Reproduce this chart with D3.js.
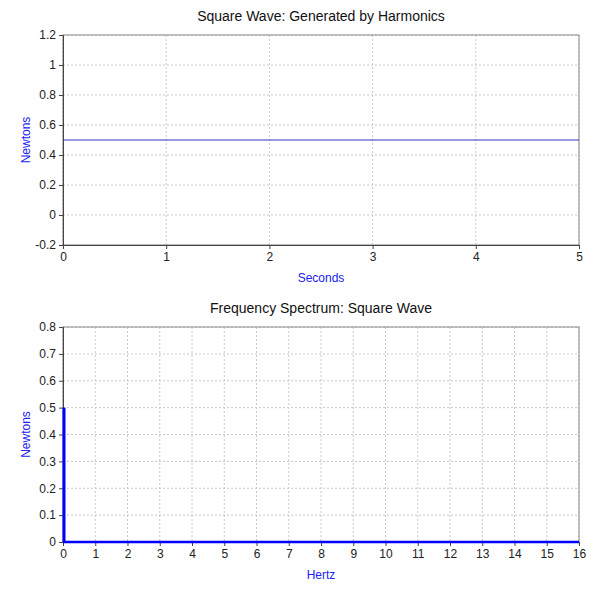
<!DOCTYPE html>
<html><head><meta charset="utf-8">
<script src="https://cdn.jsdelivr.net/npm/d3@7"></script>
<style>body{margin:0;background:#fff}text{font-family:"Liberation Sans",Arial,sans-serif}</style>
</head><body><svg id="c" width="600" height="600"></svg>
<script>
// time signal: square wave generated by harmonics (only DC term here)
var timeSec = [0, 5];
var timeVal = [0.5, 0.5];
var timeTicksY = [-0.2, 0, 0.2, 0.4, 0.6, 0.8, 1, 1.2];
var timeTicksX = [0, 1, 2, 3, 4, 5];

// spectrum
var freqHz = [0, 1, 2, 3, 4, 5, 6, 7, 8, 9, 10, 11, 12, 13, 14, 15, 16];
var freqAmp = [0.5, 0, 0, 0, 0, 0, 0, 0, 0, 0, 0, 0, 0, 0, 0, 0, 0];
var specTicksY = [0, 0.1, 0.2, 0.3, 0.4, 0.5, 0.6, 0.7, 0.8];

var svg = d3.select('#c');

function panel(o) {
  var g = svg.append('g');
  var x = d3.scaleLinear().domain(o.xd).range([63, 579]);
  var y = d3.scaleLinear().domain(o.yd).range([o.bottom, o.top]);

  // grid
  g.selectAll('.gx').data(o.xt).enter().append('line')
    .attr('x1', function(d){return x(d);}).attr('x2', function(d){return x(d);})
    .attr('y1', o.top).attr('y2', o.bottom)
    .attr('stroke', '#c8c8c8').attr('stroke-dasharray', '2,2');
  g.selectAll('.gy').data(o.yt).enter().append('line')
    .attr('x1', 63).attr('x2', 579)
    .attr('y1', function(d){return y(d);}).attr('y2', function(d){return y(d);})
    .attr('stroke', '#c8c8c8').attr('stroke-dasharray', '2,2');

  g.append('rect').attr('x', 63).attr('y', o.top).attr('width', 516).attr('height', o.bottom - o.top)
    .attr('fill', 'none').attr('stroke', '#888');

  var ax = g.append('g').attr('transform', 'translate(0,' + o.bottom + ')')
    .call(d3.axisBottom(x).tickValues(o.xt).tickSize(4).tickFormat(function(d){return String(d);}));
  var ay = g.append('g').attr('transform', 'translate(63,0)')
    .call(d3.axisLeft(y).tickValues(o.yt).tickSize(4).tickFormat(function(d){return String(+d.toFixed(1));}));
  [ax, ay].forEach(function(a) {
    a.select('.domain').attr('stroke', '#444');
    a.selectAll('.tick line').attr('stroke', '#444');
    a.selectAll('text').attr('font-size', 12).attr('fill', '#222')
      .style('font-family', '"Liberation Sans",Arial,sans-serif');
  });

  g.append('text').attr('x', 321).attr('y', o.top - 14).attr('text-anchor', 'middle')
    .attr('font-size', 14).attr('fill', '#111').text(o.title);
  g.append('text').attr('x', 321).attr('y', o.bottom + 37).attr('text-anchor', 'middle')
    .attr('font-size', 12).attr('fill', '#2222ee').text(o.xlabel);
  g.append('text').attr('transform', 'translate(30,' + ((o.top + o.bottom) / 2) + ') rotate(-90)')
    .attr('text-anchor', 'middle').attr('font-size', 12).attr('fill', '#2222ee').text('Newtons');
  return {g: g, x: x, y: y};
}

var p1 = panel({xd: [0, 5], yd: [-0.2, 1.2], top: 35, bottom: 245, xt: timeTicksX, yt: timeTicksY,
  title: 'Square Wave: Generated by Harmonics', xlabel: 'Seconds'});
p1.g.append('path').datum(d3.zip(timeSec, timeVal))
  .attr('d', d3.line().x(function(d){return p1.x(d[0]);}).y(function(d){return p1.y(d[1]);}))
  .attr('fill', 'none').attr('stroke', '#3333cc').attr('stroke-width', 1);

var p2 = panel({xd: [0, 16], yd: [0, 0.8], top: 327, bottom: 542, xt: freqHz, yt: specTicksY,
  title: 'Frequency Spectrum: Square Wave', xlabel: 'Hertz'});
p2.g.selectAll('.stem').data(d3.zip(freqHz, freqAmp)).enter().append('line')
  .attr('x1', function(d){return p2.x(d[0]) + 1;}).attr('x2', function(d){return p2.x(d[0]) + 1;})
  .attr('y1', p2.y(0)).attr('y2', function(d){return p2.y(d[1]);})
  .attr('stroke', '#0000ff').attr('stroke-width', 3);
p2.g.append('path').datum(d3.zip(freqHz, freqAmp.map(function(){return 0;})))
  .attr('d', d3.line().x(function(d){return p2.x(d[0]);}).y(function(d){return p2.y(d[1]);}))
  .attr('fill', 'none').attr('stroke', '#0000ff').attr('stroke-width', 2.5);
</script></body></html>
